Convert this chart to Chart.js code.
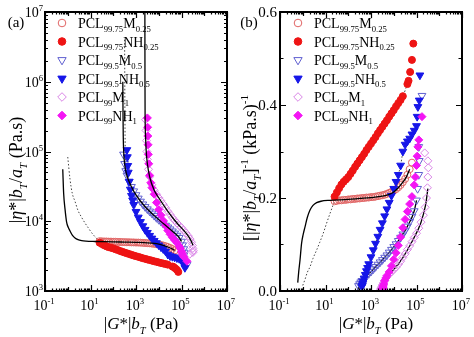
<!DOCTYPE html>
<html>
<head>
<meta charset="utf-8">
<script src="https://cdn.jsdelivr.net/npm/chart.js@4.4.1/dist/chart.umd.min.js"></script>
<style>
  html, body { margin: 0; padding: 0; background: #fff; }
  #wrap { position: relative; width: 474px; height: 337px; }
  canvas { position: absolute; left: 0; top: 0; }
</style>
</head>
<body>
<div id="wrap">
  <canvas id="chartA" width="474" height="337"></canvas>
  <canvas id="chartB" width="474" height="337"></canvas>
</div>
<script>
// |G*|bT (Pa) 와 [|η*|bT/aT]^-1 ((kPa.s)^-1) 값 - 그림에서 읽은 값
const gM025 = [25.1, 31.6, 39.8, 50.1, 63.1, 79.4, 100, 126, 158, 200, 251, 316, 398, 501, 631, 794, 1000, 1260, 1580, 2000, 2510, 3160, 3980, 5010, 6310, 7940, 10000, 12600, 15800, 20000, 25100, 31600, 39800, 50100, 63100];
const vM025 = [0.193, 0.194, 0.195, 0.195, 0.196, 0.196, 0.197, 0.197, 0.198, 0.198, 0.199, 0.199, 0.2, 0.2, 0.201, 0.201, 0.202, 0.202, 0.203, 0.204, 0.205, 0.206, 0.207, 0.209, 0.211, 0.213, 0.216, 0.219, 0.223, 0.228, 0.234, 0.241, 0.25, 0.262, 0.276];

const gNH025 = [25.1, 31.6, 39.8, 50.1, 63.1, 79.4, 100, 126, 158, 200, 251, 316, 398, 501, 631, 794, 1000, 1260, 1580, 2000, 2510, 3160, 3980, 5010, 6310, 7940, 10000, 12600, 15800, 20000, 25100, 39800, 44700, 52500, 63100, 72400];
const vNH025 = [0.203, 0.212, 0.221, 0.229, 0.235, 0.24, 0.245, 0.252, 0.259, 0.267, 0.274, 0.281, 0.288, 0.295, 0.303, 0.31, 0.317, 0.324, 0.331, 0.339, 0.346, 0.353, 0.36, 0.367, 0.375, 0.382, 0.389, 0.397, 0.404, 0.411, 0.419, 0.445, 0.452, 0.471, 0.497, 0.532];

const gM05 = [282, 316, 355, 398, 501, 631, 794, 1000, 1260, 1580, 2000, 2510, 3160, 3980, 5010, 6310, 7940, 10000, 12600, 15800, 20000, 25100, 31600, 39800, 50100, 63100, 79400, 100000, 112000, 126000, 132000, 126000, 174000];
const vM05 = [0.011, 0.015, 0.019, 0.022, 0.027, 0.032, 0.037, 0.042, 0.047, 0.052, 0.057, 0.062, 0.067, 0.072, 0.077, 0.083, 0.089, 0.095, 0.101, 0.108, 0.115, 0.122, 0.13, 0.139, 0.149, 0.16, 0.172, 0.195, 0.22, 0.25, 0.28, 0.31, 0.42];

const gNH05 = [398, 417, 437, 457, 501, 562, 631, 708, 794, 1000, 1260, 1580, 2000, 2510, 3160, 3980, 5010, 6310, 7940, 10000, 12600, 15800, 20000, 25100, 31600, 39800, 50100, 63100, 79400, 100000, 107000, 115000, 132000, 141000];
const vNH05 = [0.0095, 0.012, 0.016, 0.02, 0.027, 0.035, 0.043, 0.05, 0.058, 0.073, 0.088, 0.102, 0.117, 0.132, 0.146, 0.161, 0.176, 0.19, 0.205, 0.22, 0.235, 0.25, 0.27, 0.3, 0.315, 0.322, 0.328, 0.337, 0.345, 0.355, 0.375, 0.396, 0.41, 0.464];

const gM1 = [2630, 2750, 2880, 3020, 3160, 3550, 3980, 5010, 6310, 7940, 10000, 12600, 15800, 20000, 25100, 31600, 39800, 50100, 63100, 79400, 100000, 126000, 158000, 200000, 240000, 275000, 302000, 316000, 331000, 316000, 229000];
const vM1 = [0.0035, 0.005, 0.007, 0.01, 0.013, 0.018, 0.023, 0.03, 0.036, 0.041, 0.046, 0.051, 0.057, 0.064, 0.072, 0.08, 0.089, 0.097, 0.106, 0.115, 0.124, 0.135, 0.148, 0.163, 0.18, 0.2, 0.222, 0.245, 0.265, 0.28, 0.297];

const gNH1 = [3160, 3240, 3310, 3390, 3470, 3630, 3980, 4470, 5010, 6310, 7940, 10000, 12600, 15800, 20000, 25100, 31600, 39800, 50100, 63100, 79400, 89100, 100000, 107000, 115000, 126000, 174000];
const vNH1 = [0.0033, 0.0045, 0.006, 0.008, 0.011, 0.015, 0.022, 0.028, 0.033, 0.041, 0.054, 0.068, 0.082, 0.098, 0.116, 0.136, 0.154, 0.171, 0.187, 0.203, 0.228, 0.245, 0.27, 0.29, 0.31, 0.325, 0.375];

// 모델 곡선 (실선 / 점선)
const gFitM025 = [0.603, 0.661, 0.759, 0.891, 1.047, 1.259, 1.585, 2.089, 2.818, 4.074, 6.31, 15.85, 100, 316, 1000, 3162, 6310, 10000, 15850, 25120, 35480, 50120];
const vFitM025 = [0.018, 0.04, 0.067, 0.103, 0.122, 0.138, 0.158, 0.174, 0.184, 0.19, 0.193, 0.195, 0.197, 0.199, 0.201, 0.204, 0.208, 0.213, 0.222, 0.234, 0.245, 0.262];
const gFitNH025 = [1, 1.259, 1.585, 2.089, 2.818, 4.074, 5.623, 7.943, 11.22, 15.85, 20.89, 26.3, 31.6, 50.1, 100, 1000, 10000, 25100, 39800];
const vFitNH025 = [0.012, 0.025, 0.04, 0.052, 0.07, 0.088, 0.105, 0.124, 0.146, 0.167, 0.183, 0.196, 0.208, 0.228, 0.245, 0.317, 0.389, 0.419, 0.445];
const gFitM05 = [263, 269, 275, 288, 316, 398, 631, 1000, 2510, 6310, 15850, 39810, 79430, 100000];
const vFitM05 = [0.001, 0.003, 0.006, 0.01, 0.015, 0.022, 0.032, 0.042, 0.062, 0.083, 0.108, 0.139, 0.172, 0.195];
const gFitNH05 = [316, 324, 331, 347, 380, 447, 562, 794, 1585, 3981, 10000, 19950, 25120];
const vFitNH05 = [0.00025, 0.002, 0.006, 0.012, 0.02, 0.03, 0.042, 0.058, 0.102, 0.161, 0.22, 0.27, 0.3];
const gFitM1 = [2455, 2483, 2512, 2630, 2818, 3162, 3981, 6310, 10000, 25120, 63100, 158500, 251200, 316200];
const vFitM1 = [0.0001, 0.001, 0.003, 0.006, 0.01, 0.015, 0.023, 0.036, 0.046, 0.072, 0.106, 0.148, 0.185, 0.22];

// 눈금 라벨
const xTickExp = [-1, 1, 3, 5, 7];
const yTickExpA = [3, 4, 5, 6, 7];
const yTickB = [0, 0.2, 0.4, 0.6];

const FONT = '"Liberation Serif", "Times New Roman", serif';

const series = [
    { name: [['PCL', 'n'], ['99.75', 'sub'], ['M', 'n'], ['0.25', 'sub']], g: gM025, v: vM025, style: 'circle', rot: 0, r: 3.5, fill: 'rgba(0,0,0,0)', stroke: '#e06464', order: 16 },
    { name: [['PCL', 'n'], ['99.75', 'sub'], ['NH', 'n'], ['0.25', 'sub']], g: gNH025, v: vNH025, style: 'circle', rot: 0, r: 3.5, fill: '#ee1414', stroke: '#ee1414', order: 15 },
    { name: [['PCL', 'n'], ['99.5', 'sub'], ['M', 'n'], ['0.5', 'sub']], g: gM05, v: vM05, style: 'triangle', rot: 180, r: 4.5, fill: 'rgba(0,0,0,0)', stroke: '#5f5fd0', order: 14 },
    { name: [['PCL', 'n'], ['99.5', 'sub'], ['NH', 'n'], ['0.5', 'sub']], g: gNH05, v: vNH05, style: 'triangle', rot: 180, r: 4.5, fill: '#1616e8', stroke: '#1616e8', order: 13 },
    { name: [['PCL', 'n'], ['99', 'sub'], ['M', 'n'], ['1', 'sub']], g: gM1, v: vM1, style: 'rectRot', rot: 0, r: 4, fill: 'rgba(0,0,0,0)', stroke: '#d985e6', order: 12 },
    { name: [['PCL', 'n'], ['99', 'sub'], ['NH', 'n'], ['1', 'sub']], g: gNH1, v: vNH1, style: 'rectRot', rot: 0, r: 4, fill: '#f414f4', stroke: '#f414f4', order: 11 }
];

// top: 패널별로 표식 위에 그릴지 여부 [a, b]
const fits = [
    { g: gFitM025, v: vFitM025, dotted: false, top: [true, true] },
    { g: gFitNH025, v: vFitNH025, dotted: true, top: [false, false] },
    { g: gFitM05, v: vFitM05, dotted: false, top: [true, false] },
    { g: gFitNH05, v: vFitNH05, dotted: true, top: [false, false] },
    { g: gFitM1, v: vFitM1, dotted: false, top: [true, false] }
];

// 패널 (a) 는 |η*| (Pa.s) = 1000 / v, 패널 (b) 는 v 그대로
function toPoints(g, v, inverse) {
    return g.map((x, i) => ({ x: x, y: inverse ? 1000 / v[i] : v[i] }));
}

function buildDatasets(inverse) {
    const ds = [];
    series.forEach(s => {
        ds.push({
            data: toPoints(s.g, s.v, inverse),
            showLine: false,
            pointStyle: s.style,
            pointRotation: s.rot,
            pointRadius: s.r,
            pointBackgroundColor: s.fill,
            pointBorderColor: s.stroke,
            pointBorderWidth: 1,
            order: s.order
        });
    });
    fits.forEach(f => {
        const onTop = f.top[inverse ? 0 : 1];
        ds.push({
            data: toPoints(f.g, f.v, inverse),
            showLine: true,
            pointRadius: 0,
            borderColor: f.dotted ? '#444' : '#000',
            borderWidth: f.dotted ? 1 : 1.3,
            borderDash: f.dotted ? [1.5, 2] : [],
            cubicInterpolationMode: 'monotone',
            order: onTop ? 1 : 20
        });
    });
    return ds;
}

// 텍스트 (아래첨자/위첨자 포함) 그리기
function drawRuns(ctx, runs, x, y, size, align) {
    const small = size * 0.62;
    const items = runs.map(([t, k]) => {
        const isSmall = (k === 'sub' || k === 'isub' || k === 'sup');
        const s = isSmall ? small : size;
        const it = (k === 'i' || k === 'isub');
        const dy = (k === 'sub' || k === 'isub') ? size * 0.28 : (k === 'sup' ? -size * 0.42 : 0);
        ctx.font = (it ? 'italic ' : '') + s + 'px ' + FONT;
        return { t: t, f: ctx.font, w: ctx.measureText(t).width, dy: dy };
    });
    const total = items.reduce((a, b) => a + b.w, 0);
    let cx = align === 'center' ? x - total / 2 : (align === 'right' ? x - total : x);
    ctx.textAlign = 'left';
    ctx.textBaseline = 'alphabetic';
    items.forEach(it => {
        ctx.font = it.f;
        ctx.fillText(it.t, cx, y + it.dy);
        cx += it.w;
    });
}

const decor = {
    id: 'decor',
    afterDraw(chart, args, opts) {
        const ctx = chart.ctx;
        const a = chart.chartArea;
        const xs = chart.scales.x;
        const ys = chart.scales.y;
        ctx.save();
        ctx.strokeStyle = '#000';
        ctx.fillStyle = '#000';
        ctx.lineWidth = 1.2;

        // x 눈금 (안쪽, 위/아래)
        for (let e = -1; e <= 7; e++) {
            for (let k = 1; k <= 9; k++) {
                if (e === 7 && k > 1) break;
                const px = Math.round(xs.getPixelForValue(k * Math.pow(10, e))) + 0.5;
                const len = k === 1 ? (Math.abs(e) % 2 === 1 ? 6 : 4) : 2.5;
                ctx.beginPath();
                ctx.moveTo(px, a.bottom); ctx.lineTo(px, a.bottom - len);
                ctx.moveTo(px, a.top); ctx.lineTo(px, a.top + len);
                ctx.stroke();
            }
        }
        // y 눈금
        const yt = [];
        if (opts.log) {
            for (let e = 3; e <= 7; e++) {
                for (let k = 1; k <= 9; k++) {
                    if (e === 7 && k > 1) break;
                    yt.push({ v: k * Math.pow(10, e), len: k === 1 ? 6 : 3 });
                }
            }
        } else {
            for (let i = 0; i <= 6; i++) yt.push({ v: i / 10, len: i % 2 === 0 ? 6 : 3.5 });
        }
        yt.forEach(t => {
            const py = Math.round(ys.getPixelForValue(t.v)) + 0.5;
            ctx.beginPath();
            ctx.moveTo(a.left, py); ctx.lineTo(a.left + t.len, py);
            ctx.moveTo(a.right, py); ctx.lineTo(a.right - t.len, py);
            ctx.stroke();
        });

        // 테두리
        ctx.lineWidth = 2;
        ctx.strokeRect(a.left, a.top, a.right - a.left, a.bottom - a.top);

        // x 눈금 라벨
        xTickExp.forEach(e => {
            const px = xs.getPixelForValue(Math.pow(10, e));
            drawRuns(ctx, [['10', 'n'], [String(e), 'sup']], px - 1, a.bottom + 19, 14, 'center');
        });
        // y 눈금 라벨
        if (opts.log) {
            yTickExpA.forEach(e => {
                const py = ys.getPixelForValue(Math.pow(10, e));
                drawRuns(ctx, [['10', 'n'], [String(e), 'sup']], a.left - 2, py + 5, 14, 'right');
            });
        } else {
            yTickB.forEach(v => {
                const py = ys.getPixelForValue(v);
                drawRuns(ctx, [[v.toFixed(1), 'n']], a.left - 3, py + 5, 15, 'right');
            });
        }

        // 축 제목
        const cx = (a.left + a.right) / 2;
        drawRuns(ctx, [['|', 'n'], ['G', 'i'], ['*', 'n'], ['|', 'n'], ['b', 'i'], ['T', 'isub'], [' (Pa)', 'n']], cx + 5, a.bottom + 38, 17, 'center');
        ctx.save();
        ctx.translate(opts.yTitleX, opts.yTitleY);
        ctx.rotate(-Math.PI / 2);
        drawRuns(ctx, opts.yTitle, 0, 0, 18, 'center');
        ctx.restore();

        // 패널 라벨
        drawRuns(ctx, [[opts.letter, 'n']], opts.letterX, 27, 15, 'center');

        // 범례
        series.forEach((s, i) => {
            const ly = 23 + i * 18.5;
            ctx.fillStyle = s.fill;
            ctx.strokeStyle = s.stroke;
            ctx.lineWidth = 1;
            Chart.helpers.drawPoint(ctx, { pointStyle: s.style, radius: s.r + 0.3, rotation: s.rot, borderWidth: 1 }, opts.legX, ly);
            ctx.fillStyle = '#000';
            drawRuns(ctx, s.name, opts.legX + 16, ly + 5, 14, 'left');
        });
        ctx.restore();
    }
};

function makeChart(id, pad, yScale, inverse, decorOpts) {
    return new Chart(document.getElementById(id), {
        type: 'scatter',
        data: { datasets: buildDatasets(inverse) },
        options: {
            responsive: false,
            animation: false,
            layout: { padding: pad },
            plugins: {
                legend: { display: false },
                tooltip: { enabled: false },
                decor: decorOpts
            },
            scales: {
                x: { type: 'logarithmic', min: 0.1, max: 1e7, display: false },
                y: Object.assign({ display: false }, yScale)
            }
        },
        plugins: [decor]
    });
}

const chartA = makeChart('chartA', { left: 45, top: 12, right: 247, bottom: 46 },
    { type: 'logarithmic', min: 1e3, max: 1e7 }, true,
    {
        log: true, letter: '(a)', letterX: 16, legX: 62, yTitleX: 22, yTitleY: 170,
        yTitle: [['|', 'n'], ['η', 'i'], ['*', 'n'], ['|', 'n'], ['b', 'i'], ['T', 'isub'], ['/', 'n'], ['a', 'i'], ['T', 'isub'], [' (Pa.s)', 'n']]
    });

const chartB = makeChart('chartB', { left: 280, top: 12, right: 12, bottom: 46 },
    { type: 'linear', min: 0, max: 0.6 }, false,
    {
        log: false, letter: '(b)', letterX: 249, legX: 298, yTitleX: 256, yTitleY: 168,
        yTitle: [['[|', 'n'], ['η', 'i'], ['*', 'n'], ['|', 'n'], ['b', 'i'], ['T', 'isub'], ['/', 'n'], ['a', 'i'], ['T', 'isub'], [']', 'n'], ['-1', 'sup'], [' (kPa.s)', 'n'], ['-1', 'sup']]
    });
</script>
</body>
</html>
